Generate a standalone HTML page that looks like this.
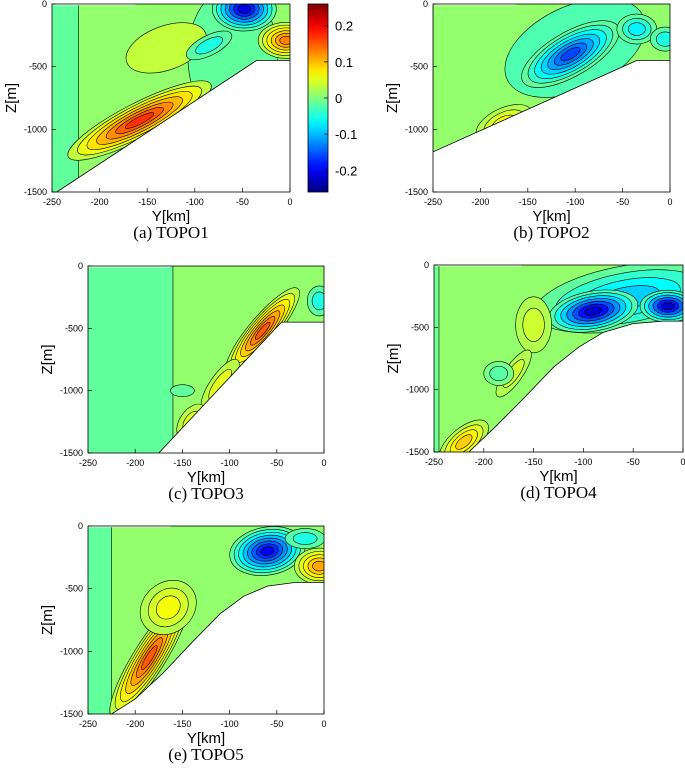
<!DOCTYPE html>
<html><head><meta charset="utf-8">
<style>
body{margin:0;background:#fff;}
svg{display:block;font-family:"Liberation Sans",sans-serif;}
.cap{font-family:"Liberation Serif",serif;font-size:17px;}
</style></head>
<body>
<svg id="fig" width="685" height="770"></svg>
<script>
// ---- data ----
const yTicks = [-250,-200,-150,-100,-50,0];
const zTicks = [0,-500,-1000,-1500];
const cbTicks = [0.2,0.1,0,-0.1,-0.2];
const panelNames = ['TOPO1','TOPO2','TOPO3','TOPO4','TOPO5'];
const panelLetters = ['a','b','c','d','e'];
// bottom topography points per panel: [y km, z m]
const topoA = [[-35,-450],[-245,-1500]];
const topoB = [[-35,-450],[-250,-1180]];
const topoC = [[-45,-450],[-175,-1500]];
const topoD = [[-20,-450],[-50,-470],[-80,-540],[-105,-660],[-130,-820],[-160,-1070],[-190,-1310],[-215,-1500]];
const topoE = [[-30,-450],[-60,-480],[-85,-560],[-110,-700],[-140,-930],[-170,-1170],[-200,-1380],[-225,-1500]];
// background value and left-strip values: [bg, stripEndY, stripValue]
const bgA = [0.01,-222,-0.015];
const bgB = [0.01,-250,-0.015];
const bgC = [0.01,-160,-0.015];
const bgD = [0.01,-245,-0.01];
const bgE = [0.01,-225,-0.015];
// blobs: [y km, z m, rx px, ry px, angle deg, peak value, levels]
const blobsA = [[-60,-420,45,70,0,-0.015,1],[-130,-350,42,22,-20,0.035,1],[-158,-930,80,18,-27,0.17,7],[-48,-40,32,22,0,-0.21,7],[-4,-290,28,18,0,0.13,6],[-85,-330,25,10,-27,-0.05,2]];
const blobsB = [[-100,-350,75,42,-25,-0.025,1],[-105,-400,55,22,-30,-0.16,7],[-35,-200,20,15,0,-0.07,3],[-175,-950,30,15,-25,0.06,3],[-230,-1400,25,12,-35,0.06,3],[-5,-280,15,12,0,-0.05,2]];
const blobsC = [[-65,-520,55,14,-50,0.15,7],[-110,-950,30,10,-55,0.05,2],[-140,-1250,20,12,-55,0.05,2],[-5,-280,12,15,0,-0.05,2],[-150,-1000,12,6,0,-0.015,1]];
const blobsD = [[-55,-260,95,32,-10,-0.09,4],[-90,-370,45,20,-10,-0.22,7],[-15,-330,28,16,0,-0.22,6],[-150,-480,18,28,0,0.04,2],[-170,-870,28,9,-55,0.04,2],[-185,-870,15,12,0,-0.02,2],[-220,-1420,30,14,-40,0.09,4]];
const blobsE = [[-60,-200,38,24,-10,-0.2,8],[-5,-320,25,18,0,0.11,5],[-185,-1050,70,16,-58,0.15,7],[-165,-650,30,25,-40,0.06,3],[-20,-100,20,10,0,-0.05,2]];
// panel frames [x0,y0,w,h]
const frames = [[52,4,238,188],[433,4,237,188],[88,266,236,187],[434,265,249,187],[88,526,236,188]];
const topos=[topoA,topoB,topoC,topoD,topoE], bgs=[bgA,bgB,bgC,bgD,bgE], blobs=[blobsA,blobsB,blobsC,blobsD,blobsE];

const NS='http://www.w3.org/2000/svg';
const svg=document.getElementById('fig');
function mk(t,a,p){const e=document.createElementNS(NS,t);for(const k in a)e.setAttribute(k,a[k]);(p||svg).appendChild(e);return e;}
function cl(v){return Math.max(0,Math.min(1,v));}
function jet(v){const t=cl((v+0.26)/0.52);const r=cl(1.5-Math.abs(4*t-3)),g=cl(1.5-Math.abs(4*t-2)),b=cl(1.5-Math.abs(4*t-1));return `rgb(${Math.round(r*255)},${Math.round(g*255)},${Math.round(b*255)})`;}

frames.forEach((f,i)=>{
  const [x0,y0,w,h]=f;
  const X=y=>x0+(y+250)/250*w, Z=z=>y0+(-z)/1500*h;
  const g=mk('g',{});
  
  
  const cid='clip'+i;
  const cp=mk('clipPath',{id:cid},g); mk('rect',{x:x0,y:y0,width:w,height:h},cp);
  const inner=mk('g',{'clip-path':`url(#${cid})`},g);
  const bg=bgs[i];
  const bgr=mk('rect',{x:x0,y:y0,width:w,height:h,fill:jet(bg[0])},inner);
  
  
  mk('rect',{x:x0-2,y:y0-2,width:X(bg[1])-x0+2,height:h+4,fill:jet(bg[2]),stroke:'#000','stroke-width':0.6},inner);
  blobs[i].forEach(b=>{
    const [yy,zz,rx,ry,ang,peak,n]=b;
    const cx=X(yy),cy=Z(zz);
    for(let k=0;k<n;k++){
      const s=1-k/(n+0.5);
      const v=bg[0]+(peak-bg[0])*(k+1)/n;
      const el=mk('ellipse',{cx:cx,cy:cy,rx:rx*s,ry:ry*s,transform:`rotate(${ang} ${cx} ${cy})`,fill:jet(v),stroke:'#000','stroke-width':0.6},inner);
      
      
    }
  });
  // white mask below topography
  const tp=topos[i];
  let pts=`${X(0)},${Z(tp[0][1])} `+tp.map(p=>`${X(p[0])},${Z(p[1])}`).join(' ');
  const last=tp[tp.length-1];
  pts+=` ${X(last[0])},${y0+h+2} ${X(0)+2},${y0+h+2} ${X(0)+2},${Z(tp[0][1])}`;
  if(last[1]>-1500) pts=`${X(0)},${Z(tp[0][1])} `+tp.map(p=>`${X(p[0])},${Z(p[1])}`).join(' ')+` ${x0-2},${Z(last[1])} ${x0-2},${y0+h+2} ${X(0)+2},${y0+h+2} ${X(0)+2},${Z(tp[0][1])}`;
  const m=mk('polygon',{points:pts,fill:'#fff',stroke:'#000','stroke-width':0.8},inner);
  
  
  mk('line',{x1:x0,y1:y0+0.5,x2:x0+w*0.35,y2:y0+0.5,stroke:'#fff','stroke-width':1.5},inner);
  mk('rect',{x:x0,y:y0,width:w,height:h,fill:'none',stroke:'#000','stroke-width':0.8},g);
  yTicks.forEach(t=>{
    mk('line',{x1:X(t),y1:y0+h,x2:X(t),y2:y0+h-4,stroke:'#000','stroke-width':0.7},g);
    const tx=mk('text',{x:X(t),y:y0+h+13,'font-size':9,'text-anchor':'middle'},g);tx.textContent=t;
    
  });
  zTicks.forEach(t=>{
    mk('line',{x1:x0,y1:Z(t),x2:x0+4,y2:Z(t),stroke:'#000','stroke-width':0.7},g);
    const tx=mk('text',{x:x0-5,y:Z(t)+3,'font-size':9,'text-anchor':'end'},g);tx.textContent=t;
    
  });
  const yl=mk('text',{x:x0+w/2,y:y0+h+29,'font-size':15,'text-anchor':'middle'},g);yl.textContent='Y[km]';
  
  const zl=mk('text',{x:0,y:0,'font-size':15,'text-anchor':'middle',transform:`translate(${x0-36},${y0+h/2}) rotate(-90)`},g);zl.textContent='Z[m]';
  
  const cp2=mk('text',{x:x0+w/2,y:y0+h+46,'text-anchor':'middle',class:'cap'},g);cp2.textContent=`(${panelLetters[i]}) ${panelNames[i]}`;
  
});

// colorbar
const cb=mk('g',{});


const gr=mk('linearGradient',{id:'cbg',x1:0,y1:1,x2:0,y2:0},mk('defs',{},cb));
for(let k=0;k<=20;k++){mk('stop',{offset:k/20,'stop-color':jet(-0.26+0.52*k/20)},gr);}
const cx0=308,cy0=4,cw=20,ch=188;
mk('rect',{x:cx0,y:cy0,width:cw,height:ch,fill:'url(#cbg)',stroke:'#000','stroke-width':0.8},cb);
const CB=v=>cy0+ch/2-v/0.52*ch;
cbTicks.forEach(t=>{
  mk('line',{x1:cx0+cw-4,y1:CB(t),x2:cx0+cw,y2:CB(t),stroke:'#000','stroke-width':0.7},cb);
  const tx=mk('text',{x:cx0+cw+7,y:CB(t)+5,'font-size':13},cb);tx.textContent=t;
  
});
</script>
</body></html>
